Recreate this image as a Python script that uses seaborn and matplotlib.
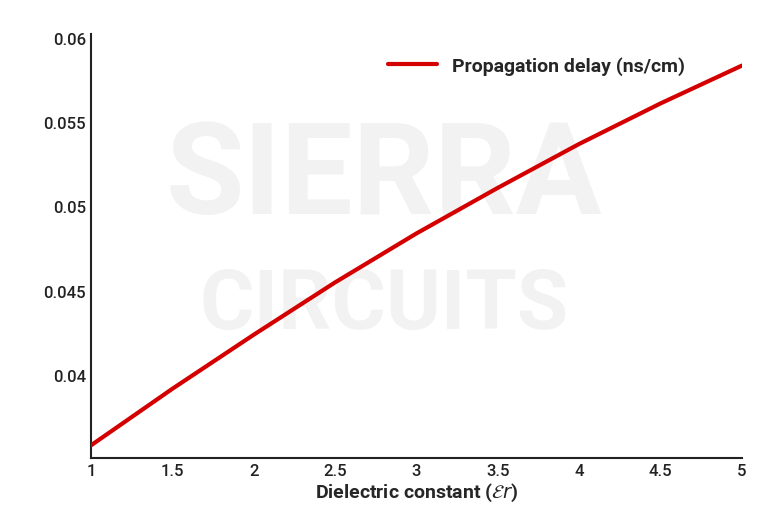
import matplotlib
matplotlib.use("Agg")
import matplotlib.pyplot as plt
import seaborn as sns
import pandas as pd

er = [1, 1.5, 2, 2.5, 3, 3.5, 4, 4.5, 5]
delay = [0.03585, 0.0392, 0.0424, 0.0455, 0.0484, 0.0511, 0.0537, 0.0561, 0.05834]
xticks = [1, 1.5, 2, 2.5, 3, 3.5, 4, 4.5, 5]
yticks = [0.04, 0.045, 0.05, 0.055, 0.06]

sns.set_style("white")
plt.rcParams['font.family'] = ['Roboto', 'DejaVu Sans']

fig = plt.figure(figsize=(7.68, 5.10), dpi=100)
ax = fig.add_axes([0.1185, 0.10, 0.8475, 0.831])
ax.text(0.45, 0.66, "SIERRA", fontsize=92, fontweight='bold', color='#f2f2f2',
        ha='center', va='center', zorder=0, transform=ax.transAxes)
ax.text(0.45, 0.36, "CIRCUITS", fontsize=60, fontweight='bold', color='#f2f2f2',
        ha='center', va='center', zorder=0, transform=ax.transAxes)
df = pd.DataFrame({"er": er, "delay": delay})
sns.lineplot(data=df, x="er", y="delay", ax=ax, color="#d40000", linewidth=3,
             label="Propagation delay (ns/cm)", zorder=3)
ax.set_xlim(1, 5)
ax.set_ylim(0.0351, 0.0602)
ax.set_xticks(xticks)
ax.set_xticklabels([f"{t:g}" for t in xticks])
ax.set_yticks(yticks)
ax.set_yticklabels([f"{t:g}" for t in yticks])
ax.tick_params(direction='in', length=6, width=1.2, labelsize=12, colors='#222222')
for lab in ax.get_xticklabels() + ax.get_yticklabels():
    lab.set_fontweight('medium')
for s in ['top', 'right']:
    ax.spines[s].set_visible(False)
for s in ['left', 'bottom']:
    ax.spines[s].set_color('#222222')
    ax.spines[s].set_linewidth(1.5)
ax.set_xlabel(r"Dielectric constant ($\mathcal{E}r$)", fontsize=14, fontweight='bold', labelpad=2)
ax.set_ylabel("")
leg = ax.legend(loc='upper right', frameon=False, fontsize=14, handlelength=2.5,
                bbox_to_anchor=(0.94, 0.99))
for t in leg.get_texts():
    t.set_fontweight('bold')
fig.savefig("out.png", dpi=100)
